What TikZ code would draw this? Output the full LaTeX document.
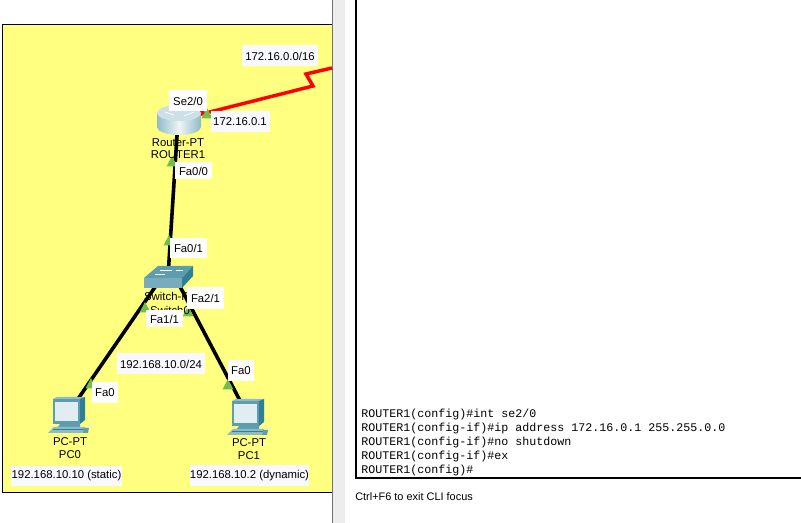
\documentclass[tikz,border=0pt]{standalone}
\usepackage{fontspec}
\setmainfont{Liberation Sans}
\setmonofont{Liberation Mono}
\definecolor{panelyellow}{HTML}{FFFF80}
\definecolor{linkgreen}{HTML}{70BF4B}
\definecolor{labelblue}{HTML}{F8F8FF}
\definecolor{tealdark}{HTML}{2F7F97}
\definecolor{tealmid}{HTML}{5E9DB0}
\definecolor{teallight}{HTML}{8FBBC9}
\tikzset{
    link/.style = {line width=2.7pt, draw=black},
    seriallink/.style = {line width=2.6pt, draw=red, line join=miter},
    lbl/.style 2 args = {fill=white, inner sep=0pt, font=\fontsize{8.5}{10}\selectfont, minimum width=#1*0.75pt, minimum height=#2*0.75pt},
    netlbl/.style 2 args = {fill=labelblue, inner sep=0pt, font=\fontsize{8.5}{10}\selectfont, minimum width=#1*0.75pt, minimum height=#2*0.75pt},
    devlbl/.style = {inner sep=0pt, font=\fontsize{8.5}{10}\selectfont},
    cli/.style = {anchor=west, inner sep=0pt, font=\ttfamily\fontsize{8.75}{10}\selectfont},
    pcpic/.pic = {
        \fill[teallight] (0,1) -- (4,-1) -- (32,-1) -- (27,1) -- cycle;
        \fill[tealdark] (27,1) -- (32,-1) -- (32,22) -- (27,26) -- cycle;
        \fill[tealmid] (0,1) rectangle (27,26);
        \fill[blue!8!teal!12!white] (2,4) rectangle (25,23);
        \fill[tealmid] (7,26) -- (27,26) -- (27,29) -- (5,29) -- cycle;
        \fill[teallight] (1,29) -- (32,29) -- (30,35) -- (-5,35) -- cycle;
        \draw[tealdark, line width=.6pt] (0,31) -- (31,31);
        \fill[tealmid] (31,30) -- (36,30) -- (35,35) -- (30,35) -- cycle;
        \draw[white!70!teallight, line width=.5pt] (34,29) .. controls (38,25) and (40,27) .. (38,30);
    },
    lights/.pic = {
        \fill[linkgreen] (0,0) -- (-5.5,10.5) -- (5.5,10.5) -- cycle;
    }
}
\begin{document}
\begin{tikzpicture}[x=0.75pt, y=-0.75pt]
    \useasboundingbox (0,0) rectangle (801,523);
    \fill[white] (0,0) rectangle (801,523);
    % workspace
    \fill[black!7] (333,0) rectangle (345,523);
    \draw[fill=panelyellow, draw=black, line width=1.1pt] (2.5,492.5) -- (2.5,24.5) -- (332.5,24.5) -- (332.5,492.5) -- cycle;
    \draw[draw=black!55, line width=1.1pt] (332.5,0) -- (332.5,523);
    % CLI frame
    \draw[draw=black, line width=1.5pt] (356,0) -- (356,478) -- (801,478);

    \coordinate (router) at (178,120);
    \coordinate (swup) at (168,277);
    \coordinate (swleft) at (162,277);
    \coordinate (swright) at (175,277);
    \coordinate (pc0) at (69,412);
    \coordinate (pc1) at (246,412);
    \coordinate (zigA) at (313,86);
    \coordinate (zigB) at (306,74);
    \coordinate (cloud) at (332,68);

    \draw[seriallink] (router) -- (zigA) -- (zigB) -- (cloud);
    \draw[link] (router) -- (swup);
    \draw[link] (swleft) -- (pc0);
    \draw[link] (swright) -- (pc1);

    % router
    \fill[red] (200,110) rectangle (204,115);
    \shade[left color=teallight, right color=tealmid!70!white, middle color=white!85!teallight]
        (157,113) -- (157,127) arc (180:0:22 and 8) -- (201,113) -- cycle;
    \fill[white!55!teallight] (179,113) ellipse (22 and 8);
    \draw[white, line width=.5pt] (165,112) -- (174,115) (184,116) -- (194,112) (172,108) -- (180,110);

    % switch
    \fill[tealmid] (144,278) -- (158,266) -- (193,266) -- (182,278) -- cycle;
    \fill[tealdark] (182,278) -- (193,266) -- (193,276) -- (182,288) -- cycle;
    \fill[tealmid!85!white] (144,278) rectangle (182,288);
    \draw[white, line width=.6pt] (160,270) -- (172,270) (176,270) -- (183,270) (155,274) -- (165,274);

    \pic at (53,398) {pcpic};
    \pic at (232,400) {pcpic};

    \pic at (207,108) {lights};
    \pic at (172,156) {lights};
    \pic at (169,235) {lights};
    \pic at (145,302) {lights};
    \pic at (188,306) {lights};
    \pic at (91,378) {lights};
    \pic at (228,379) {lights};

    \node[devlbl] (rtype) at (178,143) {Router-PT};
    \node[devlbl] (rname) at (178,155) {ROUTER1};
    \node[devlbl] (stype) at (170,296) {Switch-PT};
    \node[devlbl] (sname) at (170,310) {Switch0};
    \node[devlbl] (p0type) at (70,442) {PC-PT};
    \node[devlbl] (p0name) at (70,455) {PC0};
    \node[devlbl] (p1type) at (249,443) {PC-PT};
    \node[devlbl] (p1name) at (249,456) {PC1};

    \node[netlbl={76}{21}] (netA) at (280,56) {172.16.0.0/16};
    \node[lbl={38}{21}] (se) at (188,101) {Se2/0};
    \node[netlbl={59}{21}] (ipA) at (240,122) {172.16.0.1};
    \node[lbl={37}{17}] (faA) at (193.5,171) {Fa0/0};
    \node[lbl={37}{20}] (faB) at (188.5,248) {Fa0/1};
    \node[lbl={37}{22}] (faC) at (205.5,298) {Fa2/1};
    \node[lbl={37}{17}] (faD) at (164.5,319) {Fa1/1};
    \node[netlbl={88}{21}] (netB) at (161,364) {192.168.10.0/24};
    \node[lbl={26}{21}] (faE) at (105,393) {Fa0};
    \node[lbl={26}{21}] (faF) at (241,371) {Fa0};
    \node[netlbl={111}{20}] (ipB) at (66.5,476) {192.168.10.10 (static)};
    \node[netlbl={119}{21}] (ipC) at (249.5,476) {192.168.10.2 (dynamic)};

    \node[cli] (cliA) at (361,414.5) {ROUTER1(config)\#int se2/0};
    \node[cli] (cliB) at (361,428.5) {ROUTER1(config-if)\#ip address 172.16.0.1 255.255.0.0};
    \node[cli] (cliC) at (361,442.5) {ROUTER1(config-if)\#no shutdown};
    \node[cli] (cliD) at (361,456.5) {ROUTER1(config-if)\#ex};
    \node[cli] (cliE) at (361,470.5) {ROUTER1(config)\#};
    \node[anchor=west, inner sep=0pt, font=\fontsize{8.2}{10}\selectfont] (hint) at (355,497) {Ctrl+F6 to exit CLI focus};
\end{tikzpicture}
\end{document}
